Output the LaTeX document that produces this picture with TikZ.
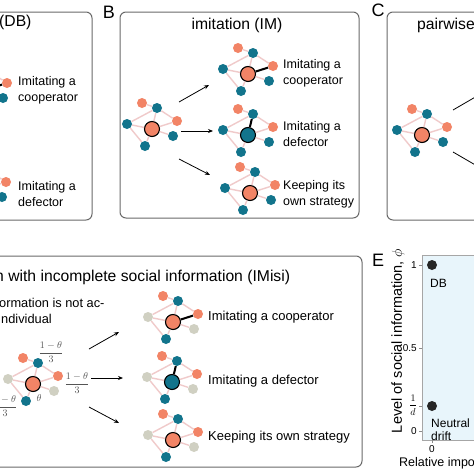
\documentclass[tikz,border=0pt]{standalone}
\usepackage{fontspec}
\setmainfont{Liberation Sans}
\usetikzlibrary{arrows.meta}
\definecolor{orng}{RGB}{242,132,102}
\definecolor{tealc}{RGB}{18,116,140}
\definecolor{pinkedge}{RGB}{240,202,202}
\definecolor{greyn}{RGB}{208,208,194}
\definecolor{boxgrey}{RGB}{105,105,105}
\definecolor{plotbg}{RGB}{232,245,251}
\definecolor{fracgrey}{RGB}{85,85,85}
\tikzset{
  dot/.style={circle,inner sep=0pt,minimum size=10pt},
  bigdot/.style={circle,inner sep=0pt,minimum size=15pt,draw=black,line width=1.1pt},
  netedge/.style={draw=pinkedge,line width=1.4pt},
  linkline/.style={draw=black,line width=2pt},
  arr/.style={-{Stealth[length=5pt,width=4pt]},line width=0.8pt},
  panel/.style={draw=boxgrey,line width=1pt,rounded corners=6pt},
  lbl/.style={font=\fontsize{12.5}{16}\selectfont,align=left,anchor=west,inner sep=0pt},
  lbld/.style={font=\fontsize{13}{16}\selectfont,anchor=west,inner sep=0pt},
  ttl/.style={font=\fontsize{15.7}{18}\selectfont,inner sep=0pt},
  plet/.style={font=\fontsize{18}{20}\selectfont,inner sep=0pt},
  frac/.style={font=\fontsize{10}{11}\selectfont,text=fracgrey,inner sep=0pt},
  ticklbl/.style={font=\fontsize{10}{11}\selectfont,anchor=east,inner sep=0pt},
  plotdot/.style={circle,fill=black!85,inner sep=0pt,minimum size=10pt},
}
\newcommand\mynet[7]{%
  \begin{scope}[shift={(#2,#3)}]
    \node[dot,fill=orng] (#1o1) at (-10,-26) {};
    \node[dot,fill=tealc] (#1t1) at (5,-21) {};
    \node[dot,fill=orng] (#1o2) at (25,-8) {};
    \node[dot,fill=#5] (#1t2) at (-25,-5) {};
    \node[dot,fill=#6] (#1t3) at (21,7) {};
    \node[dot,fill=tealc] (#1t4) at (-7,17) {};
    \node[bigdot,fill=#4] (#1c) at (0,0) {};
    \foreach \a/\b in {o1/t1,t1/o2,t2/t1,t2/c,t2/t4,c/t1,c/o2,c/t3,c/t4}
      \draw[netedge] (#1\a) -- (#1\b);
    \if\relax\detokenize{#7}\relax\else\draw[linkline] (#1c) -- (#1#7);\fi
  \end{scope}}
\begin{document}
\begin{tikzpicture}[x=1pt,y=-1pt]
\useasboundingbox (0,0) rectangle (474,474);
\fill[white] (0,0) rectangle (474,474);

% ---------- Panel A ----------
\draw[panel] (-20,12) rectangle (92,220);
\node[ttl,anchor=west] (atitle) at (-1,22) {(DB)};
\mynet{aa}{-18}{91}{orng}{tealc}{tealc}{o2}
\mynet{ab}{-19}{190}{tealc}{tealc}{tealc}{t1}
\node[lbl] (alab1) at (18,90) {Imitating a\\cooperator};
\node[lbl] (alab2) at (18,194) {Imitating a\\defector};

% ---------- Panel B ----------
\node[plet] (bletter) at (109,12) {B};
\draw[panel] (120,12) rectangle (359,218);
\node[ttl] (btitle) at (237,25) {imitation (IM)};
\mynet{bl}{152}{129}{orng}{tealc}{tealc}{}
\mynet{bt}{248}{74}{orng}{tealc}{tealc}{o2}
\mynet{bm}{248}{135}{tealc}{tealc}{tealc}{t1}
\mynet{bb}{250}{193}{orng}{tealc}{tealc}{}
\coordinate (bs1) at (179,102); \coordinate (be1) at (209,85);
\coordinate (bs2) at (181,131); \coordinate (be2) at (213,131);
\coordinate (bs3) at (179,159); \coordinate (be3) at (210,175);
\draw[arr] (bs1) -- (be1);
\draw[arr] (bs2) -- (be2);
\draw[arr] (bs3) -- (be3);
\node[lbl] (blab1) at (283,73.5) {Imitating a\\cooperator};
\node[lbl] (blab2) at (283,134.5) {Imitating a\\defector};
\node[lbl] (blab3) at (283,194.5) {Keeping its\\own strategy};

% ---------- Panel C ----------
\node[plet] (cletter) at (378,10) {C};
\draw[panel] (387,12) rectangle (520,220);
\node[ttl,anchor=west] (ctitle) at (417,25) {pairwise};
\mynet{cl}{422}{135}{orng}{tealc}{tealc}{}
\coordinate (cs1) at (453,110); \coordinate (ce1) at (484,92);
\coordinate (cs2) at (453,152); \coordinate (ce2) at (484,170);
\draw[line width=0.8pt] (cs1) -- (ce1);
\draw[line width=0.8pt] (cs2) -- (ce2);

% ---------- Panel D ----------
\draw[panel] (-20,256) rectangle (362,467);
\node[ttl,anchor=west] (dtitle) at (-5,277) {n with incomplete social information (IMisi)};
\node[lbl,font=\fontsize{12.8}{16}\selectfont] (dtext1) at (-1,303) {ormation is not ac-};
\node[lbl,font=\fontsize{12.8}{16}\selectfont] (dtext2) at (1,319) {ndividual};
\mynet{dl}{33}{384}{orng}{greyn}{greyn}{}
\node[frac] (df1) at (51,352) {$\displaystyle\frac{1-\theta}{3}$};
\node[frac] (df2) at (77,383) {$\displaystyle\frac{1-\theta}{3}$};
\node[frac] (df3) at (5,406) {$\displaystyle\frac{1-\theta}{3}$};
\node[frac] (dth) at (39,398) {$\theta$};
\mynet{dt}{173}{322}{orng}{greyn}{greyn}{o2}
\mynet{dm}{172}{382}{tealc}{greyn}{greyn}{t1}
\mynet{db}{173}{440}{orng}{greyn}{greyn}{}
\coordinate (ds1) at (89,349); \coordinate (de1) at (119,332);
\coordinate (ds2) at (91,378); \coordinate (de2) at (123,378);
\coordinate (ds3) at (89,407); \coordinate (de3) at (119,423);
\draw[arr] (ds1) -- (de1);
\draw[arr] (ds2) -- (de2);
\draw[arr] (ds3) -- (de3);
\node[lbld] (dlab1) at (208,317) {Imitating a cooperator};
\node[lbld] (dlab2) at (208,381) {Imitating a defector};
\node[lbld] (dlab3) at (208,437) {Keeping its own strategy};

% ---------- Panel E ----------
\node[plet] (eletter) at (378,260) {E};
\draw[fill=plotbg,draw=black!35,line width=0.8pt] (422,255) rectangle (520,440);
\foreach \yy in {265,348,406,431} \draw[black!45,line width=0.6pt] (419,\yy) -- (422,\yy);
\draw[black!45,line width=0.6pt] (432,440) -- (432,443);
\node[ticklbl] (ey1) at (417,265) {1};
\node[ticklbl] (ey2) at (417,348) {0.5};
\node[ticklbl] (ey3) at (417,405) {$\displaystyle\frac{1}{d}$};
\node[ticklbl] (ey4) at (417,431) {0};
\node[font=\fontsize{10}{11}\selectfont,inner sep=0pt] (ex0) at (432,449) {0};
\node[font=\fontsize{12.5}{14}\selectfont,anchor=west,inner sep=0pt] (exlab) at (399,463) {Relative impor};
\node[font=\fontsize{14.5}{16}\selectfont,rotate=90,inner sep=0pt] (eylab) at (398,341) {Level of social information, $\phi$};
\node[plotdot] (edb) at (432,265) {};
\node[plotdot] (ent) at (432,406) {};
\node[font=\fontsize{12}{14}\selectfont,anchor=west,inner sep=0pt] (edblab) at (430,283) {DB};
\node[font=\fontsize{12}{13}\selectfont,anchor=west,align=left,inner sep=0pt] (entlab) at (431,430) {Neutral\\drift};
\end{tikzpicture}
\end{document}
